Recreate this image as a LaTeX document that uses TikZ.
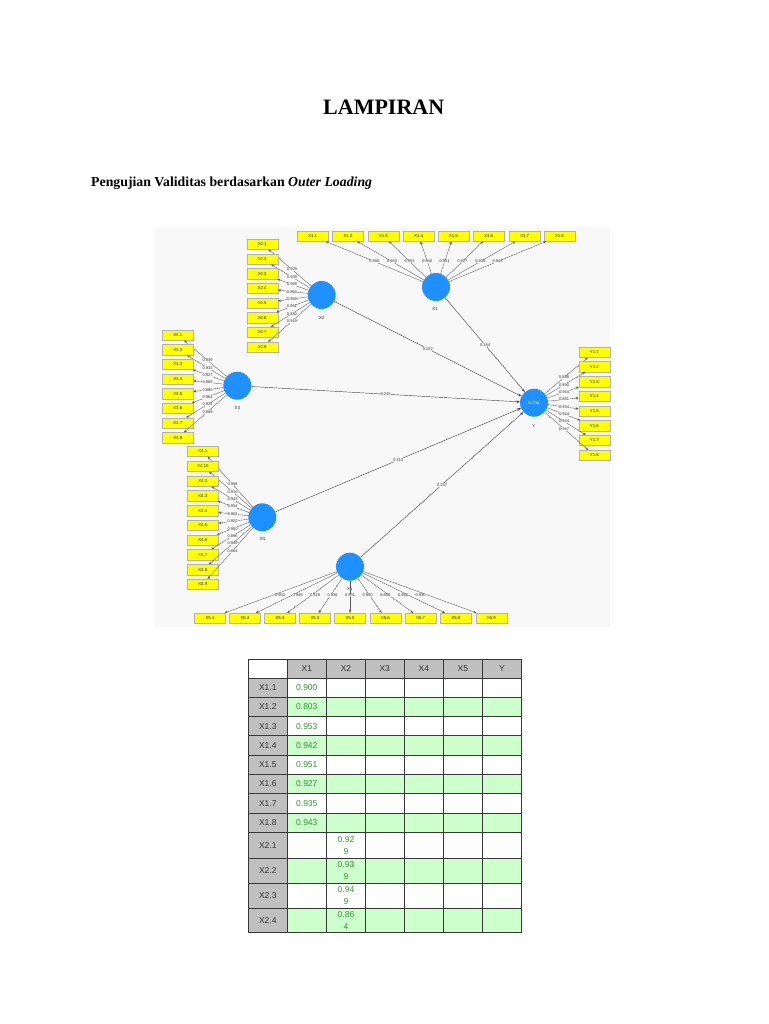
\documentclass[tikz,border=0pt]{standalone}
\usepackage{fontspec}
\setmainfont{Liberation Serif}
\newfontfamily\arialf{Liberation Sans}
\usetikzlibrary{arrows.meta,calc}
\definecolor{plsblue}{RGB}{30,144,255}
\definecolor{bgc}{RGB}{248,248,248}
\definecolor{hdr}{RGB}{192,192,192}
\definecolor{tgreen}{RGB}{204,255,204}
\definecolor{vgreen}{RGB}{51,150,51}
\definecolor{gridc}{RGB}{55,55,55}
\definecolor{boxy}{RGB}{255,255,0}
\pgfdeclarelayer{front}
\pgfsetlayers{main,front}
\begin{document}
\begin{tikzpicture}[x=1pt,y=-1pt,
 lv/.style={circle,fill=plsblue,minimum size=28pt,inner sep=0pt},
 lvname/.style={font=\arialf\fontsize{4.5}{5}\selectfont,text=black!80,inner sep=0pt},
 ind/.style={rectangle,fill=boxy,draw=black!30,line width=0.3pt,minimum width=31pt,minimum height=10.5pt,inner sep=0pt,font=\arialf\fontsize{4.3}{5}\selectfont,text=black!85},
 ld/.style={draw=black!65,line width=0.35pt,-{Stealth[length=3pt,width=2.4pt]}},
 sp/.style={draw=black!70,line width=0.45pt,-{Stealth[length=3.4pt,width=2.8pt]}},
 lbl/.style={fill=bgc,inner sep=0.4pt,font=\arialf\fontsize{4}{4}\selectfont,text=black!80},
 rh/.style={font=\arialf\fontsize{8.5}{11.5}\selectfont,text=black!80,inner sep=0pt},
 val/.style={font=\arialf\fontsize{8.5}{11.5}\selectfont,text=vgreen,inner sep=0pt,align=center},
 gl/.style={draw=gridc,line width=0.9pt}]
\useasboundingbox (0,0) rectangle (768,1024);
\fill[white] (0,0) rectangle (768,1024);

% titles
\node[font=\fontsize{22}{26}\bfseries\selectfont,anchor=base,inner sep=0pt] (title) at (383.7,115) {LAMPIRAN};
\node[font=\fontsize{13.8}{16}\bfseries\selectfont,anchor=base west,inner sep=0pt] (sub) at (91,186.7) {Pengujian Validitas berdasarkan \textit{Outer Loading}};

% diagram background
\fill[bgc] (155,228) rectangle (610,627);

% latent variables
\node[lv] (X1) at (436,287) {};
\node[lv] (X2) at (321.7,295) {};
\node[lv] (X3) at (237.3,385.7) {};
\node[lv] (X4) at (262.3,517.3) {};
\node[lv] (X5) at (350,566.7) {};
\node[lv,text=white,font=\arialf\fontsize{4.5}{5}\selectfont] (Y) at (534,402.7) {0.704};
\node[lvname] (nX1) at (435,309.3) {X1};
\node[lvname] (nX2) at (321.7,317.7) {X2};
\node[lvname] (nX3) at (237.3,407.5) {X3};
\node[lvname] (nX4) at (262.3,539.3) {X4};
\node[lvname] (nX5) at (349.5,588.8) {X5};
\node[lvname] (nY) at (533.5,425.5) {Y};

% X1 indicators
\foreach \i/\x/\v in {1/312.7/0.900,2/348/0.803,3/383.3/0.953,4/418.7/0.942,5/453.3/0.951,6/488.7/0.927,7/524.7/0.935,8/559.3/0.943}{
  \node[ind] (X1-\i) at (\x,236) {X1.\i};
  \draw[ld] (X1) -- (X1-\i);
  \begin{pgfonlayer}{front}\node[lbl] (lX1-\i) at ($(X1)!.5!(X1-\i)$) {\v};\end{pgfonlayer}
}
% X2 indicators
\foreach \i/\y/\v in {1/244/0.929,2/259/0.939,3/273.7/0.949,4/288.3/0.864,5/303/0.949,6/317.7/0.951,7/332.3/0.882,8/347.3/0.919}{
  \node[ind] (X2-\i) at (262.2,\y) {X2.\i};
  \draw[ld] (X2) -- (X2-\i);
  \begin{pgfonlayer}{front}\node[lbl] (lX2-\i) at ($(X2)!.5!(X2-\i)$) {\v};\end{pgfonlayer}
}
% X3 indicators
\foreach \i/\y/\v in {1/335/0.939,2/349.7/0.932,3/364.3/0.927,4/379/0.883,5/393.7/0.880,6/408.3/0.964,7/423/0.924,8/437.7/0.889}{
  \node[ind] (X3-\i) at (177.8,\y) {X3.\i};
  \draw[ld] (X3) -- (X3-\i);
  \begin{pgfonlayer}{front}\node[lbl] (lX3-\i) at ($(X3)!.5!(X3-\i)$) {\v};\end{pgfonlayer}
}
% X4 indicators
\foreach \i/\n/\y/\v in {1/1/451.3/0.908,2/10/466.3/0.910,3/2/481/0.943,4/3/495.7/0.934,5/4/510.7/0.904,6/5/525.3/0.922,7/6/540/0.950,8/7/554.7/0.896,9/8/569.7/0.949,10/9/584.3/0.864}{
  \node[ind] (X4-\i) at (202.8,\y) {X4.\n};
  \draw[ld] (X4) -- (X4-\i);
  \begin{pgfonlayer}{front}\node[lbl] (lX4-\i) at ($(X4)!.5!(X4-\i)$) {\v};\end{pgfonlayer}
}
% X5 indicators
\foreach \i/\x/\v in {1/210/0.902,2/245/0.949,3/280/0.828,4/315/0.936,5/350/0.901,6/385.3/0.940,7/420.7/0.898,8/456/0.946,9/491.3/0.930}{
  \node[ind] (X5-\i) at (\x,618.3) {X5.\i};
  \draw[ld] (X5) -- (X5-\i);
  \begin{pgfonlayer}{front}\node[lbl] (lX5-\i) at ($(X5)!.5!(X5-\i)+(0,3)$) {\v};\end{pgfonlayer}
}
% Y indicators
\foreach \i/\y/\v in {1/352/0.888,2/366.7/0.890,3/381.7/0.944,4/396.3/0.881,5/411/0.934,6/425.7/0.944,7/440.3/0.944,8/455.3/0.947}{
  \node[ind] (Y-\i) at (594.3,\y) {Y1.\i};
  \draw[ld] (Y) -- (Y-\i);
  \begin{pgfonlayer}{front}\node[lbl] (lY-\i) at ($(Y)!.5!(Y-\i)$) {\v};\end{pgfonlayer}
}

% structural paths
\foreach \s/\v in {X1/0.184,X2/0.222,X3/0.215,X4/0.310,X5/0.257}{
  \draw[sp] (\s) -- (Y);
  \begin{pgfonlayer}{front}\node[lbl] (p\s) at ($(\s)!.5!(Y)$) {\v};\end{pgfonlayer}
}

% ---------------- table ----------------
\fill[hdr] (287.3,659) rectangle (521.7,678.3);
\foreach \c/\t in {306.8/X1,346/X2,384.7/X3,423.8/X4,462.8/X5,502/Y}{
  \node[rh] (h\t) at (\c,668.7) {\t};
}
\foreach \t/\b/\n/\f/\v [count=\k] in {678.3/697.3/X1.1/white/0.900,697.3/716.7/X1.2/tgreen/0.803,716.7/735.7/X1.3/white/0.953,735.7/755/X1.4/tgreen/0.942,755/774/X1.5/white/0.951,774/793.3/X1.6/tgreen/0.927,793.3/813.3/X1.7/white/0.935,813.3/832.7/X1.8/tgreen/0.943}{
  \fill[\f] (287.3,\t) rectangle (521.7,\b);
  \fill[hdr] (248.3,\t) rectangle (287.3,\b);
  \node[rh] (r\k) at (267.8,{(\t+\b)/2}) {\n};
  \node[val] (v\k) at (306.8,{(\t+\b)/2}) {\v};
}
\foreach \t/\b/\n/\f/\va/\vb [count=\k] in {832.7/858.3/X2.1/white/0.92/9,858.3/883.3/X2.2/tgreen/0.93/9,883.3/908.3/X2.3/white/0.94/9,908.3/932.7/X2.4/tgreen/0.86/4}{
  \fill[\f] (287.3,\t) rectangle (521.7,\b);
  \fill[hdr] (248.3,\t) rectangle (287.3,\b);
  \node[rh] (s\k) at (267.8,{(\t+\b)/2}) {\n};
  \node[val] (w\k) at (346,{(\t+\b)/2}) {\va\\\vb};
}
\foreach \c in {248.3,287.3,326.7,365,404.3,443.3,482.3,521.7}{
  \draw[gl] (\c,659) -- (\c,932.7);
}
\foreach \r in {659,678.3,697.3,716.7,735.7,755,774,793.3,813.3,832.7,858.3,883.3,908.3,932.7}{
  \draw[gl] (248.3,\r) -- (521.7,\r);
}
\end{tikzpicture}
\end{document}
